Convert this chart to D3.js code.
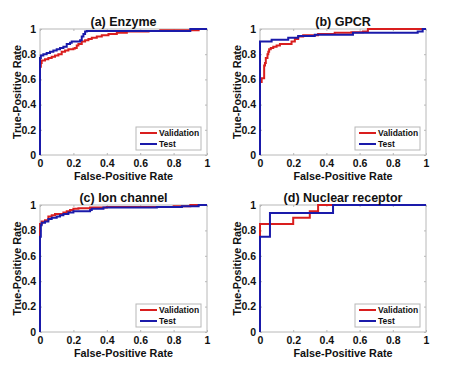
<!DOCTYPE html>
<html><head><meta charset="utf-8">
<script src="https://cdn.jsdelivr.net/npm/d3@7"></script>
<style>body{margin:0;background:#fff}svg{display:block}text{font-family:"Liberation Sans",Arial,sans-serif;font-weight:bold;fill:#111}</style>
</head><body>
<script>
const titles = ["(a) Enzyme", "(b) GPCR", "(c) Ion channel", "(d) Nuclear receptor"];
const seriesNames = ["Validation", "Test"];
const ticks = [0, 0.2, 0.4, 0.6, 0.8, 1];
const tickLabels = ["0", "0.2", "0.4", "0.6", "0.8", "1"];

const enzymeValidation = [[0,0],[0,0.70],[0.005,0.73],[0.01,0.75],[0.03,0.76],[0.05,0.77],[0.07,0.78],[0.09,0.79],[0.11,0.80],[0.13,0.82],[0.15,0.83],[0.17,0.84],[0.20,0.845],[0.21,0.85],[0.22,0.87],[0.23,0.88],[0.25,0.90],[0.27,0.91],[0.29,0.92],[0.31,0.93],[0.34,0.94],[0.37,0.95],[0.41,0.96],[0.46,0.97],[0.52,0.98],[0.65,0.985],[0.72,0.99],[0.92,0.99],[0.95,1.0],[1,1]];
const enzymeTest = [[0,0],[0,0.77],[0.005,0.79],[0.02,0.80],[0.04,0.81],[0.06,0.82],[0.08,0.83],[0.10,0.84],[0.12,0.85],[0.14,0.86],[0.16,0.88],[0.18,0.89],[0.19,0.90],[0.24,0.91],[0.25,0.94],[0.26,0.96],[0.27,0.98],[0.28,0.985],[0.90,1.0],[1,1]];
const gpcrValidation = [[0,0],[0,0.58],[0.01,0.61],[0.025,0.71],[0.03,0.73],[0.035,0.77],[0.045,0.80],[0.05,0.82],[0.055,0.84],[0.065,0.85],[0.08,0.86],[0.10,0.87],[0.12,0.88],[0.19,0.90],[0.21,0.92],[0.23,0.94],[0.26,0.95],[0.35,0.96],[0.45,0.97],[0.55,0.975],[0.62,0.98],[0.65,1.0],[1,1]];
const gpcrTest = [[0,0],[0,0.90],[0.07,0.915],[0.17,0.93],[0.23,0.945],[0.33,0.955],[0.56,0.97],[0.95,0.98],[0.98,1.0],[1,1]];
const ionValidation = [[0,0],[0,0.85],[0.01,0.87],[0.03,0.88],[0.05,0.91],[0.07,0.92],[0.09,0.93],[0.14,0.94],[0.16,0.95],[0.18,0.96],[0.20,0.97],[0.23,0.975],[0.30,0.98],[0.40,0.985],[0.80,0.99],[0.90,1.0],[1,1]];
const ionTest = [[0,0],[0,0.75],[0.005,0.84],[0.01,0.86],[0.03,0.87],[0.05,0.89],[0.07,0.90],[0.10,0.91],[0.12,0.92],[0.14,0.93],[0.17,0.94],[0.20,0.95],[0.30,0.96],[0.31,0.97],[0.38,0.98],[0.70,0.985],[0.85,0.99],[0.95,1.0],[1,1]];
const nuclearValidation = [[0,0],[0,0.80],[0,0.85],[0.2,0.90],[0.3,0.95],[0.35,1.0],[1,1]];
const nuclearTest = [[0,0],[0,0.75],[0.06,0.9375],[0.44,1.0],[1,1]];

const panelData = [[enzymeValidation, enzymeTest],[gpcrValidation, gpcrTest],[ionValidation, ionTest],[nuclearValidation, nuclearTest]];
const colors = ["#d91e1e", "#1a1aaa"];

const W = 474, H = 373;
const svg = d3.select("body").append("svg").attr("width", W).attr("height", H);
const boxes = [
  {x0:40, x1:207, y0:29, y1:155},
  {x0:260, x1:426, y0:29, y1:155},
  {x0:40, x1:207, y0:205, y1:332},
  {x0:260, x1:426, y0:205, y1:332}
];

boxes.forEach((b, i) => {
  const x = d3.scaleLinear().domain([0,1]).range([b.x0, b.x1]);
  const y = d3.scaleLinear().domain([0,1]).range([b.y1, b.y0]);
  const g = svg.append("g");
  // frame
  g.append("rect").attr("x", b.x0).attr("y", b.y0).attr("width", b.x1-b.x0).attr("height", b.y1-b.y0)
    .attr("fill", "none").attr("stroke", "#b8b8b8").attr("stroke-width", 1);
  // axes
  const ax = g.append("g").attr("transform", `translate(0,${b.y1})`)
    .call(d3.axisBottom(x).tickValues(ticks).tickFormat((d,k)=>tickLabels[k]).tickSizeInner(-2).tickSizeOuter(0).tickPadding(5));
  const ay = g.append("g").attr("transform", `translate(${b.x0},0)`)
    .call(d3.axisLeft(y).tickValues(ticks).tickFormat((d,k)=>tickLabels[k]).tickSizeInner(-2).tickSizeOuter(0).tickPadding(4));
  const axt = g.append("g").attr("transform", `translate(0,${b.y0})`)
    .call(d3.axisTop(x).tickValues(ticks).tickFormat("").tickSizeInner(-2).tickSizeOuter(0));
  const ayr = g.append("g").attr("transform", `translate(${b.x1},0)`)
    .call(d3.axisRight(y).tickValues(ticks).tickFormat("").tickSizeInner(-2).tickSizeOuter(0));
  [ax, ay, axt, ayr].forEach(a => {
    a.select(".domain").remove();
    a.selectAll(".tick line").attr("stroke", "#b8b8b8");
    a.selectAll(".tick text").attr("font-size", 10.5).attr("font-family", '"Liberation Sans",Arial,sans-serif').attr("font-weight", "bold").attr("fill", "#111");
  });
  ax.selectAll(".tick text").attr("dy", "0.71em");
  // curves
  const line = d3.line().x(d => x(d[0])).y(d => y(d[1])).curve(d3.curveStepAfter);
  panelData[i].forEach((s, k) => {
    g.append("path").datum(s).attr("d", line).attr("fill", "none")
      .attr("stroke", colors[k]).attr("stroke-width", 2).attr("stroke-linejoin", "miter");
  });
  // title
  g.append("text").attr("x", (b.x0+b.x1)/2).attr("y", b.y0-3).attr("text-anchor", "middle")
    .attr("font-size", 12.5).text(titles[i]);
  // axis labels
  g.append("text").attr("x", (b.x0+b.x1)/2).attr("y", b.y1+25).attr("text-anchor", "middle")
    .attr("font-size", 10.8).text("False-Positive Rate");
  g.append("text").attr("transform", `translate(${b.x0-19},${(b.y0+b.y1)/2}) rotate(-90)`)
    .attr("text-anchor", "middle").attr("font-size", 10.8).text("True-Positive Rate");
  // legend
  const lx = b.x1 - 71, ly = b.y1 - 28;
  const lg = g.append("g").attr("transform", `translate(${lx},${ly})`);
  lg.append("rect").attr("width", 65).attr("height", 23).attr("fill", "#fff").attr("stroke", "#b8b8b8");
  seriesNames.forEach((n, k) => {
    lg.append("line").attr("x1", 4).attr("x2", 21).attr("y1", 6+k*11).attr("y2", 6+k*11)
      .attr("stroke", colors[k]).attr("stroke-width", 2);
    lg.append("text").attr("x", 23).attr("y", 6+k*11).attr("dy", "0.35em").attr("font-size", 8.5).text(n);
  });
});
</script>
</body></html>
